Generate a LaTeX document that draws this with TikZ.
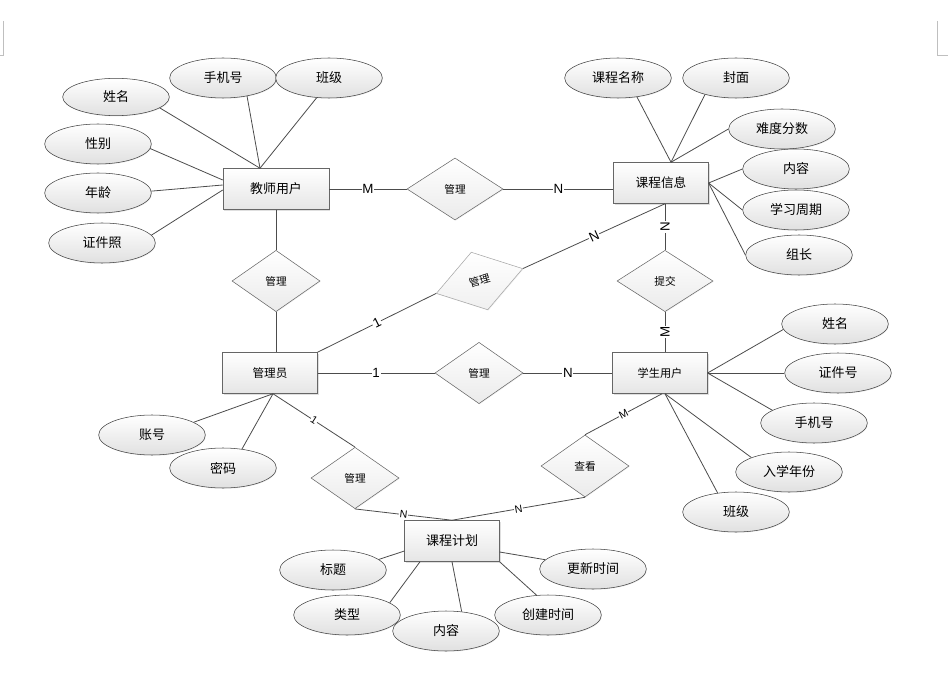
\documentclass[tikz,border=0pt]{standalone}
\usepackage{fontspec}
\setmainfont{Liberation Sans}
\newfontfamily\cjk{Noto Sans CJK SC}
\usetikzlibrary{shapes.geometric,calc,shadows}
\begin{document}
\begin{tikzpicture}[x=0.75pt,y=-0.75pt,
  ent/.style={draw=black!60, rectangle, minimum width=71pt, minimum height=30.75pt, inner sep=0pt,
    top color=white, bottom color=black!10,
    drop shadow={shadow xshift=0.9pt,shadow yshift=-0.9pt,fill=black!25}},
  attr/.style={draw=black!75, ellipse, minimum width=80pt, minimum height=30pt, inner sep=0pt,
    top color=white, bottom color=black!12,
    drop shadow={shadow xshift=0.5pt,shadow yshift=-0.6pt,fill=black!15},
    font=\cjk\fontsize{9.75pt}{11pt}\selectfont},
  rel/.style={draw=black!60, diamond, minimum width=66pt, minimum height=46pt, inner sep=0pt,
    top color=white, bottom color=black!8,
    drop shadow={shadow xshift=0.5pt,shadow yshift=-0.6pt,fill=black!12},
    font=\cjk\fontsize{8pt}{10pt}\selectfont},
  conn/.style={draw=black!70, line width=0.6pt},
  card/.style={fill=white, inner sep=0.6pt, font=\fontsize{10pt}{11pt}\selectfont},
  cards/.style={fill=white, inner sep=0.4pt, font=\fontsize{8pt}{9pt}\selectfont},
  cropmark/.style={draw=black!25, line width=0.6pt}
]
\useasboundingbox (0,0) rectangle (948,680);

% page corner marks
\coordinate (mL1) at (3,21); \coordinate (mL2) at (3,55); \coordinate (mL3) at (0,55);
\coordinate (mR1) at (937,21); \coordinate (mR2) at (937,55); \coordinate (mR3) at (948,55);
\draw[cropmark] (mL1) -- (mL2) -- (mL3);
\draw[cropmark] (mR1) -- (mR2) -- (mR3);

% entities
\node[ent, minimum width=79.5pt, font=\cjk\fontsize{9.7pt}{11pt}\selectfont] (T) at (276,189) {教师用户};
\node[ent, font=\cjk\fontsize{9.5pt}{11pt}\selectfont] (CI) at (661,183) {课程信息};
\node[ent, font=\cjk\fontsize{8.7pt}{10pt}\selectfont] (A) at (270,373) {管理员};
\node[ent, font=\cjk\fontsize{8.4pt}{10pt}\selectfont] (S) at (660,373) {学生用户};
\node[ent, font=\cjk\fontsize{9.75pt}{11pt}\selectfont] (P) at (452,541) {课程计划};

% relationships
\node[rel, minimum width=72pt, minimum height=46.5pt] (R1) at (455,189) {管理};
\node[rel] (R2) at (276,281) {管理};
\node[rel, draw=black!35, bottom color=black!6, minimum width=67.5pt, minimum height=45pt, rotate=16] (R3) at (479.5,281) {管理};
\node[rel] (R4) at (479,373) {管理};
\node[rel, minimum width=72pt] (R5) at (665,281) {提交};
\node[rel] (R6) at (355,478) {管理};
\node[rel, minimum height=46.5pt] (R7) at (585,466) {查看};

% attributes of 教师用户
\node[attr, minimum height=28pt] (t1) at (116,97) {姓名};
\node[attr] (t2) at (223,78) {手机号};
\node[attr] (t3) at (329,78) {班级};
\node[attr] (t4) at (98,144) {性别};
\node[attr] (t5) at (98,193) {年龄};
\node[attr] (t6) at (102,243) {证件照};

% attributes of 课程信息
\node[attr] (c1) at (618,78) {课程名称};
\node[attr] (c2) at (736,78) {封面};
\node[attr] (c3) at (782,129) {难度分数};
\node[attr] (c4) at (796,169) {内容};
\node[attr] (c5) at (796,210) {学习周期};
\node[attr] (c6) at (799,255) {组长};

% attributes of 学生用户
\node[attr] (s1) at (835,324) {姓名};
\node[attr] (s2) at (838,373) {证件号};
\node[attr] (s3) at (814,423) {手机号};
\node[attr] (s4) at (789,472) {入学年份};
\node[attr] (s5) at (736,512) {班级};

% attributes of 管理员
\node[attr] (a1) at (152,435) {账号};
\node[attr] (a2) at (223,468) {密码};

% attributes of 课程计划
\node[attr] (p1) at (333,570) {标题};
\node[attr] (p2) at (347,615) {类型};
\node[attr] (p3) at (446,631) {内容};
\node[attr] (p4) at (548,615) {创建时间};
\node[attr] (p5) at (593,569) {更新时间};

% connection points
\coordinate (tT) at ($(T.north)+(-16,0)$);
\coordinate (tL1) at ($(T.west)+(0,-9)$);
\coordinate (tL2) at ($(T.west)+(0,-4)$);
\coordinate (tL3) at ($(T.west)+(0,1)$);
\coordinate (cT) at ($(CI.north)+(10,0)$);
\coordinate (cB) at ($(CI.south)+(4,0)$);
\coordinate (sB) at ($(S.south)+(5,0)$);
\coordinate (sB2) at ($(S.south)+(2,0)$);
\coordinate (aB) at ($(A.south)+(3,0)$);
\coordinate (pL) at ($(P.west)+(0,10)$);
\coordinate (pB1) at ($(P.south)+(-32,0)$);
\coordinate (pR) at ($(P.east)+(0,11)$);

% attribute lines
\draw[conn] (t1.-14) -- (tT);
\draw[conn] (t2.-37) -- (tT);
\draw[conn] (t3.-122) -- (tT);
\draw[conn] (t4.-5) -- (tL1);
\draw[conn] (t5.2) -- (tL2);
\draw[conn] (t6.9) -- (tL3);
\draw[conn] (c1.-45) -- (cT);
\draw[conn] (c2.-152) -- (cT);
\draw[conn] (c3.west) -- (cT);
\draw[conn] (c4.west) -- (CI.east);
\draw[conn] (c5.west) -- (CI.east);
\draw[conn] (c6.west) -- (CI.east);
\draw[conn] (s1.-174) -- (S.east);
\draw[conn] (s2.west) -- (S.east);
\draw[conn] (s3.163) -- (S.east);
\draw[conn] (s4.159) -- (sB);
\draw[conn] (s5.134) -- (sB);
\draw[conn] (a1.17) -- (aB);
\draw[conn] (a2.45) -- (aB);
\draw[conn] (p1.13) -- (pL);
\draw[conn] (p2.16) -- (pB1);
\draw[conn] (p3.51) -- (P.south);
\draw[conn] (p4.120) -- (P.south east);
\draw[conn] (p5.169) -- (pR);

% relationship lines
\draw[conn] (T.east) -- node[card] {M} (R1.west);
\draw[conn] (R1.east) -- node[card] {N} (R1.east -| CI.west);
\draw[conn] (T.south) -- (R2.north);
\draw[conn] (R2.south) -- (R2.south |- A.north);
\draw[conn] (A.north east) -- node[card, sloped] {1} (R3.west);
\draw[conn] (R3.east) -- node[card, sloped] {N} (cB);
\draw[conn] (cB) -- node[card, rotate=90] {N} (R5.north);
\draw[conn] (R5.south) -- node[card, rotate=90] {M} (R5.south |- S.north);
\draw[conn] (A.east) -- node[card] {1} (R4.west);
\draw[conn] (R4.east) -- node[card] {N} (S.west);
\draw[conn] (aB) -- node[cards, sloped] {1} (R6.north);
\draw[conn] (R6.south) -- node[cards, sloped] {N} (P.north);
\draw[conn] (sB2) -- node[cards, sloped] {M} (R7.north);
\draw[conn] (R7.south) -- node[cards, sloped] {N} (P.north);
\end{tikzpicture}
\end{document}
